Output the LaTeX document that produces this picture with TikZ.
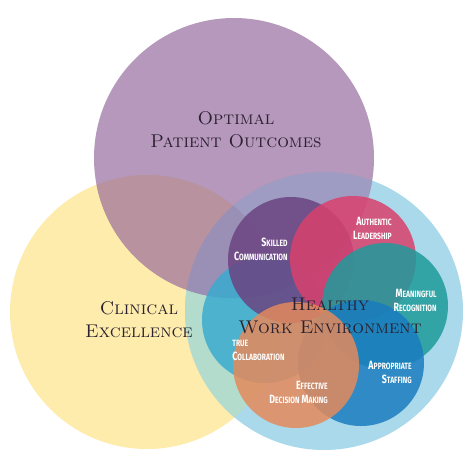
\documentclass[tikz,border=0pt]{standalone}
\usepackage{fontspec}
\usepackage{xcolor}
\usepackage{tikz}
\newfontfamily\tagfont[FakeStretch=0.74]{Fira Sans}
\definecolor{excellence}{HTML}{FDECAB}
\definecolor{outcomes}{HTML}{B598BC}
\definecolor{environment}{HTML}{A9D9EA}
\definecolor{excenv}{HTML}{B4DCCD}
\definecolor{outexc}{HTML}{B8929F}
\definecolor{outenv}{HTML}{9E9CC3}
\definecolor{outexcenv}{HTML}{9A8FB4}
\definecolor{skillcol}{HTML}{6B4482}
\definecolor{leadcol}{HTML}{D9416D}
\definecolor{recogcol}{HTML}{1F9B9B}
\definecolor{staffcol}{HTML}{1A7DBF}
\definecolor{decicol}{HTML}{E48A5C}
\definecolor{collabcol}{HTML}{3AABCF}
\definecolor{bigtext}{HTML}{2B2130}
\newcommand{\capword}[2]{{\fontsize{6.8}{8}\selectfont #1}{\fontsize{5.2}{8}\selectfont #2}}

\begin{document}
\begin{tikzpicture}[x=0.02cm, y=-0.02cm,
    big/.style={font=\fontsize{10.5}{13}\selectfont\scshape, text=bigtext, align=center},
    tag/.style={font=\tagfont\bfseries\fontsize{6.8}{8}\selectfont, text=white, align=right, inner sep=0pt, anchor=east},
    part/.style={fill opacity=0.85}]
    \useasboundingbox (0,0) rectangle (474,461);
    \coordinate (P) at (234,158);
    \coordinate (Y) at (147,312);
    \coordinate (B) at (324,311);

    \fill [excellence] (Y) circle [radius=137];
    \fill [environment] (B) circle [radius=139];
    \begin{scope}
        \clip (Y) circle [radius=137];
        \fill [excenv] (B) circle [radius=139];
    \end{scope}
    \fill [outcomes] (P) circle [radius=140];
    \begin{scope}
        \clip (P) circle [radius=140];
        \fill [outexc] (Y) circle [radius=137];
        \fill [outenv] (B) circle [radius=139];
        \clip (Y) circle [radius=137];
        \fill [outexcenv] (B) circle [radius=139];
    \end{scope}

    \coordinate (tc) at (265,320);
    \coordinate (sc) at (291,260);
    \coordinate (al) at (353,259);
    \coordinate (mr) at (385,306);
    \coordinate (as) at (361,363);
    \coordinate (ed) at (296,365);
    \fill [part, collabcol] (tc) circle [radius=63];
    \fill [part, skillcol] (sc) circle [radius=63];
    \fill [part, leadcol] (al) circle [radius=63];
    \fill [part, recogcol] (mr) circle [radius=63];
    \fill [part, staffcol] (as) circle [radius=63];
    \fill [part, decicol] (ed) circle [radius=63];

    \node [big] (outcome) at (236,130) {Optimal\\Patient Outcomes};
    \node [big] (clinical) at (139,320) {Clinical\\Excellence};
    \node [big] (healthy) at (330,316) {Healthy\\Work Environment};

    \node [tag] (skill) at (288,249) {\capword{S}{KILLED}\\\capword{C}{OMMUNICATION}};
    \node [tag] (lead) at (392,228) {\capword{A}{UTHENTIC}\\\capword{L}{EADERSHIP}};
    \node [tag] (recog) at (437,300) {\capword{M}{EANINGFUL}\\\capword{R}{ECOGNITION}};
    \node [tag] (staff) at (412,372) {\capword{A}{PPROPRIATE}\\\capword{S}{TAFFING}};
    \node [tag] (decide) at (328,392) {\capword{E}{FFECTIVE}\\\capword{D}{ECISION} \capword{M}{AKING}};
    \node [tag, align=left, anchor=west] (collab) at (232,350) {\capword{}{TRUE}\\\capword{C}{OLLABORATION}};
\end{tikzpicture}
\end{document}
